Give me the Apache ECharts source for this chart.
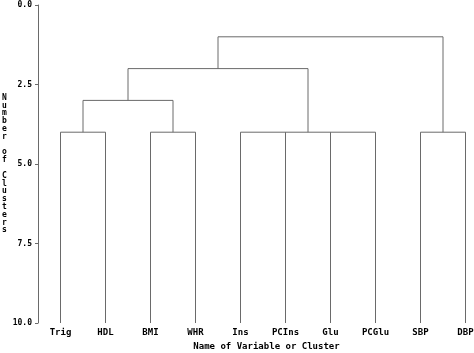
<!DOCTYPE html>
<html>
<head>
<meta charset="utf-8">
<script src="https://cdn.jsdelivr.net/npm/echarts@6/dist/echarts.min.js"></script>
<style>
html, body { margin: 0; padding: 0; background: #fff; }
#chart { width: 474px; height: 353px; }
</style>
</head>
<body>
<div id="chart"></div>
<script>
var leaves = ["Trig", "HDL", "BMI", "WHR", "Ins", "PCIns", "Glu", "PCGlu", "SBP", "DBP"];
var leafLevel = 10;
// clusters numbered after the leaves: 10, 11, ...
var clusterKids = [[0, 1], [2, 3], [4, 5, 6, 7], [8, 9], [10, 11], [14, 12], [15, 13]];
var clusterLevel = [4, 4, 4, 4, 3, 2, 1];
var yTicks = [0, 2.5, 5, 7.5, 10];

var nodeX = [], nodeY = [];
leaves.forEach(function(name, i) {
    nodeX.push(i);
    nodeY.push(leafLevel);
});
clusterKids.forEach(function(kids, c) {
    var xs = kids.map(function(k) { return nodeX[k]; });
    nodeX.push((Math.min.apply(null, xs) + Math.max.apply(null, xs)) / 2);
    nodeY.push(clusterLevel[c]);
});

var lineColor = "#6a6a6a";
var font = "DejaVu Sans Mono";

function renderItem(params, api) {
    var c = api.value(0);
    var kids = clusterKids[c];
    var h = clusterLevel[c];
    function pt(x, y) {
        var a = api.coord([0, y]), b = api.coord([1, y]);
        return [a[0] + (b[0] - a[0]) * x, a[1]];
    }
    var xs = kids.map(function(k) { return nodeX[k]; });
    var l = pt(Math.min.apply(null, xs), h), r = pt(Math.max.apply(null, xs), h);
    var children = [{
        type: "line",
        shape: { x1: l[0], y1: l[1], x2: r[0], y2: r[1] },
        style: { stroke: lineColor, lineWidth: 1 }
    }];
    kids.forEach(function(k) {
        var p1 = pt(nodeX[k], nodeY[k]), p2 = pt(nodeX[k], h);
        children.push({
            type: "line",
            shape: { x1: p1[0], y1: p1[1], x2: p2[0], y2: p2[1] },
            style: { stroke: lineColor, lineWidth: 1 }
        });
    });
    return { type: "group", children: children };
}

var chart = echarts.init(document.getElementById("chart"));
chart.setOption({
    animation: false,
    grid: { left: 38, top: 5, bottom: 30, width: 450, outerBoundsMode: "none" },
    xAxis: {
        type: "category",
        data: leaves,
        boundaryGap: true,
        name: "Name of Variable or Cluster",
        nameLocation: "middle",
        nameGap: 17,
        nameTextStyle: { color: "#000", fontFamily: font, fontWeight: "bold", fontSize: 9, padding: [0, 0, 0, 7] },
        axisLine: { show: false },
        axisTick: { show: false },
        axisLabel: { color: "#000", fontFamily: font, fontWeight: "bold", fontSize: 9, margin: 5 },
        splitLine: { show: false }
    },
    yAxis: {
        type: "value",
        inverse: true,
        min: yTicks[0],
        max: yTicks[yTicks.length - 1],
        interval: 2.5,
        name: "N\nu\nm\nb\ne\nr\n \no\nf\n \nC\nl\nu\ns\nt\ne\nr\ns",
        nameLocation: "middle",
        nameRotate: 0,
        nameGap: 33,
        nameTextStyle: { color: "#000", fontFamily: font, fontWeight: "bold", fontSize: 8, lineHeight: 7.8, align: "center", verticalAlign: "middle", padding: [5, 0, 0, 0] },
        axisLine: { show: true, lineStyle: { color: lineColor } },
        axisTick: { show: true, length: 3, lineStyle: { color: lineColor } },
        axisLabel: {
            color: "#000", fontFamily: font, fontWeight: "bold", fontSize: 8, margin: 6,
            formatter: function(v) { return v.toFixed(1); }
        },
        splitLine: { show: false }
    },
    series: [{
        type: "custom",
        renderItem: renderItem,
        data: clusterKids.map(function(k, i) { return [i]; })
    }]
});
</script>
</body>
</html>
